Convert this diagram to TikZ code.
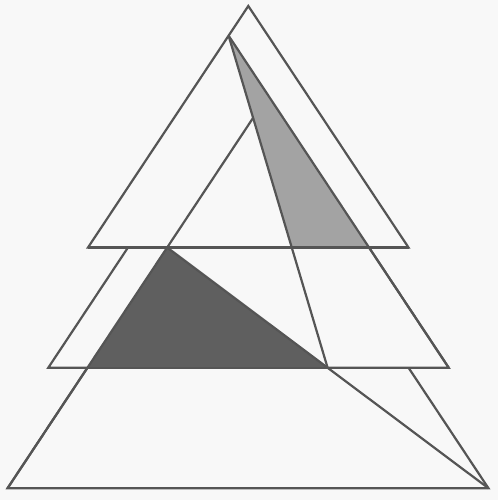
\documentclass[tikz,border=0pt]{standalone}
\begin{document}
\begin{tikzpicture}[x=1pt,y=-1pt,
  edge/.style={draw=strokegray,line width=2.2pt,line join=miter},
  tri/.style={edge,fill=bggray}]
\definecolor{bggray}{HTML}{F8F8F8}
\definecolor{strokegray}{HTML}{555555}
\definecolor{lightfill}{HTML}{A3A3A3}
\definecolor{darkfill}{HTML}{5F5F5F}
\fill[bggray] (0,0) rectangle (498,500);
\useasboundingbox (0,0) rectangle (498,500);
% triangle vertices
\coordinate (A)  at (248.3,6);
\coordinate (TL) at (88,247.5);
\coordinate (TR) at (408.5,247.5);
\coordinate (M)  at (248.5,65.7);
\coordinate (ML) at (48.3,367.7);
\coordinate (MR) at (448.7,367.7);
\coordinate (B)  at (248,125.6);
\coordinate (BL) at (7.5,488.3);
\coordinate (BR) at (488.5,488.3);
% derived points
\coordinate (P1) at (intersection of MR--M and A--TL);
\coordinate (D)  at (intersection of BL--B and TL--TR);
\coordinate (Q)  at (intersection of D--BR and ML--MR);
\coordinate (P2) at (intersection of BL--B and P1--Q);
\coordinate (G1) at (intersection of P1--Q and TL--TR);
\coordinate (G2) at (intersection of P1--MR and TL--TR);
\coordinate (E)  at (intersection of BL--B and ML--MR);
% triangles
\path[tri] (BL) -- (B) -- (BR) -- cycle;
\path[tri] (ML) -- (M) -- (MR) -- cycle;
\path[tri] (TL) -- (A) -- (TR) -- cycle;
% shaded triangles
\fill[lightfill] (P1) -- (G1) -- (G2) -- cycle;
\fill[darkfill] (E) -- (D) -- (Q) -- cycle;
% extra lines
\draw[edge] (BL) -- (P2);
\draw[edge] (D) -- (BR);
\draw[edge] (P1) -- (Q);
\draw[edge] (P1) -- (MR);
\draw[edge] (TL) -- (TR);
\draw[edge] (ML) -- (MR);
\end{tikzpicture}
\end{document}
